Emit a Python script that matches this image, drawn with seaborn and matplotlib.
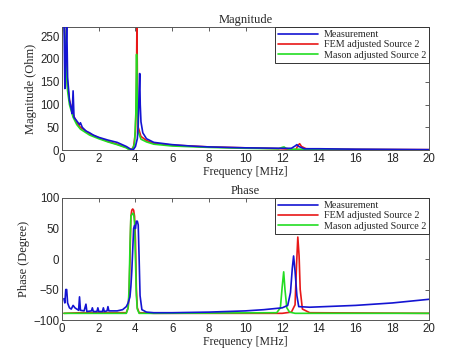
import numpy as np
import pandas as pd
import matplotlib
matplotlib.use("Agg")
import matplotlib.pyplot as plt
import seaborn as sns

SERIES = ["Measurement", "FEM adjusted Source 2", "Mason adjusted Source 2"]
COLORS = ["#1414d2", "#e81818", "#22dd22"]

# Magnitude (Ohm) vs frequency (MHz)
mag_meas_f = [0.1, 0.15, 0.2, 0.25, 0.3, 0.4, 0.5, 0.55, 0.6, 0.65, 0.8, 0.95, 1.0, 1.05, 1.1, 1.3,
              1.5, 1.7, 2.0, 2.5, 3.0, 3.5, 3.7, 3.8, 3.9, 4.0, 4.1, 4.15, 4.2, 4.23, 4.26, 4.3,
              4.4, 4.6, 5.0, 6.0, 7.0, 8.0, 10.0, 12.0, 12.5, 12.7, 12.8, 12.9, 13.2, 14.0, 16.0,
              18.0, 20.0]
mag_meas = [300, 135, 200, 290, 160, 110, 90, 80, 130, 72, 64, 56, 60, 55, 50, 42,
            38, 33, 28, 22, 17, 8, 3, 1, 2, 8, 25, 55, 130, 168, 100, 62,
            38, 25, 17, 12, 9, 7, 5, 4, 4, 9, 12, 8, 3, 3, 2,
            1.5, 1]
mag_fem_f = [0.1, 0.2, 0.3, 0.4, 0.6, 0.8, 1.0, 1.5, 2.0, 2.5, 3.0, 3.5, 3.7, 3.8, 3.9, 4.0,
             4.05, 4.08, 4.11, 4.15, 4.3, 4.6, 5.0, 6.0, 8.0, 10.0, 12.0, 12.4, 12.6, 12.75,
             12.85, 12.95, 13.05, 13.3, 14.0, 16.0, 20.0]
mag_fem = [300, 200, 140, 110, 78, 60, 50, 36, 27, 19, 13, 6, 1, 2, 8, 40,
           120, 285, 120, 50, 30, 21, 15, 11, 7, 5, 3, 2, 1, 1,
           10, 14, 8, 3, 2, 1.5, 1]
mag_mason_f = [0.1, 0.2, 0.3, 0.4, 0.6, 0.8, 1.0, 1.5, 2.0, 2.5, 3.0, 3.5, 3.65, 3.75, 3.85,
               3.95, 4.02, 4.06, 4.1, 4.15, 4.3, 4.6, 5.0, 6.0, 8.0, 10.0, 11.8, 12.0, 12.1,
               12.2, 12.4, 13.0, 14.0, 16.0, 20.0]
mag_mason = [300, 190, 130, 100, 72, 56, 46, 33, 25, 18, 12, 5, 1, 0.5, 3,
             15, 80, 210, 100, 40, 24, 18, 13, 9, 6, 4, 3, 6, 7,
             4, 2, 2, 1.5, 1, 0.5]

# Phase (Degree) vs frequency (MHz)
ph_meas_f = [0.1, 0.15, 0.2, 0.25, 0.3, 0.4, 0.5, 0.6, 0.7, 0.9, 0.95, 1.0, 1.2, 1.3, 1.35,
             1.6, 1.65, 1.7, 1.9, 1.95, 2.0, 2.2, 2.25, 2.3, 2.45, 2.5, 2.55, 3.0, 3.3, 3.5,
             3.6, 3.7, 3.75, 3.8, 3.9, 3.95, 4.0, 4.05, 4.1, 4.15, 4.2, 4.25, 4.35, 4.6, 5.0,
             6.0, 8.0, 10.0, 11.0, 12.0, 12.3, 12.45, 12.55, 12.62, 12.7, 12.8, 12.9, 13.5,
             16.0, 18.0, 20.0]
ph_meas = [-65, -72, -50, -50, -72, -80, -82, -76, -80, -84, -62, -84, -85, -74, -86,
           -85, -80, -86, -86, -80, -86, -86, -80, -86, -85, -78, -85, -85, -83, -78,
           -72, -62, -45, -20, 50, 55, 50, 62, 62, 56, 0, -60, -83, -87, -88,
           -88, -87, -85, -83, -80, -76, -55, -15, 5, -20, -60, -78, -79,
           -76, -72, -66]
ph_fem_f = [0.1, 1.0, 2.5, 3.5, 3.6, 3.65, 3.7, 3.75, 3.8, 3.85, 3.9, 3.95, 4.0, 4.05, 4.1,
            4.2, 5.0, 10.0, 12.0, 12.5, 12.7, 12.78, 12.85, 12.92, 12.98, 13.1, 13.5, 20.0]
ph_fem = [-89, -88, -88, -88, -80, -60, 0, 70, 80, 82, 80, 70, 30, -50, -80,
          -88, -89, -89, -89, -87, -75, -10, 36, 5, -50, -82, -88, -89]
ph_mason_f = [0.1, 3.5, 3.6, 3.65, 3.7, 3.75, 3.85, 3.9, 3.95, 4.0, 4.05, 4.1, 4.2, 5.0,
              11.7, 11.9, 12.0, 12.08, 12.15, 12.25, 12.4, 12.7, 20.0]
ph_mason = [-89, -89, -80, -50, 20, 70, 75, 74, 60, 0, -60, -82, -89, -89,
            -88, -80, -45, -21, -50, -80, -87, -89, -89]


def long_frame(pairs):
    rows = []
    for name, (f, v) in zip(SERIES, pairs):
        rows.append(pd.DataFrame({"f": f, "v": v, "series": name}))
    return pd.concat(rows, ignore_index=True)


def style_axis(ax, title, ylabel, ylim, yticks):
    ax.set_xlim(0, 20)
    ax.set_ylim(*ylim)
    ax.set_xticks(range(0, 21, 2))
    ax.set_yticks(yticks)
    ax.set_title(title, family="Liberation Serif", fontsize=9, pad=3)
    ax.set_xlabel("Frequency [MHz]", family="Liberation Serif", fontsize=8.5, labelpad=1)
    ax.set_ylabel(ylabel, family="Liberation Serif", fontsize=9, labelpad=2)
    ax.tick_params(direction="in", top=True, right=True, labelsize=8.3, length=3,
                   width=0.6, color="#444444", pad=2)
    for s in ax.spines.values():
        s.set_color("#555555")
        s.set_linewidth(0.7)
    leg = ax.legend(loc="upper right", borderaxespad=0, fancybox=False, framealpha=1,
                    prop={"family": "Liberation Serif", "size": 7.3}, handlelength=4.0,
                    labelspacing=0.12, borderpad=0.3, handletextpad=0.5)
    leg.get_frame().set_edgecolor("#333333")
    leg.get_frame().set_linewidth(0.7)


sns.set_style("white")
plt.rcParams["font.family"] = ["Liberation Sans", "DejaVu Sans"]

fig = plt.figure(figsize=(4.74, 3.6), dpi=100)
ax1 = fig.add_axes([0.131, 0.583, 0.774, 0.342])
ax2 = fig.add_axes([0.131, 0.111, 0.774, 0.339])

mag_df = long_frame([(mag_meas_f, mag_meas), (mag_fem_f, mag_fem), (mag_mason_f, mag_mason)])
ph_df = long_frame([(ph_meas_f, ph_meas), (ph_fem_f, ph_fem), (ph_mason_f, ph_mason)])

for ax, df in [(ax1, mag_df), (ax2, ph_df)]:
    sns.lineplot(data=df, x="f", y="v", hue="series", hue_order=SERIES,
                 palette=COLORS, estimator=None, sort=True, linewidth=1.2, ax=ax)
    # keep measurement on top like the reference
    ax.get_lines()[0].set_zorder(3)

style_axis(ax1, "Magnitude", "Magnitude (Ohm)", (0, 270), range(0, 251, 50))
style_axis(ax2, "Phase", "Phase (Degree)", (-100, 100), range(-100, 101, 50))

fig.savefig("out.png", dpi=100, facecolor="white")
